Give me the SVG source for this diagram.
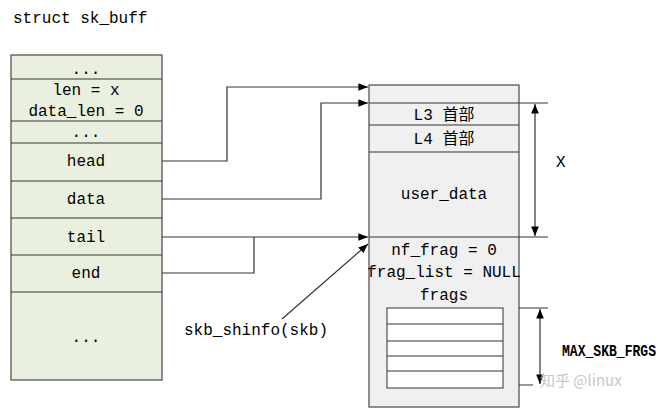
<svg xmlns="http://www.w3.org/2000/svg" width="667" height="408" viewBox="0 0 667 408">
<defs>
<style>
text{font-family:"Liberation Mono","Noto Sans CJK SC",monospace;font-size:16px;fill:#000}
.c{text-anchor:middle}
.box{stroke:#555;stroke-width:1.3}
.ln{stroke:#333;stroke-width:1.2;fill:none}
</style>
<marker id="a" viewBox="0 0 10 10" refX="10" refY="5" markerWidth="8" markerHeight="8" orient="auto-start-reverse"><path d="M0,1 L10,5 L0,9 z" fill="#000"/></marker>
</defs>
<rect width="667" height="408" fill="#fff"/>
<text x="13" y="23" font-size="17.5">struct sk_buff</text>
<g id="sk_buff">
<rect class="box" x="11" y="55" width="151" height="325" fill="#eaf0df"/>
<path class="ln" d="M11,79H162M11,121H162M11,143H162M11,181H162M11,218H162M11,255H162M11,292H162"/>
<text class="c" x="86" y="74">...</text>
<text class="c" x="86" y="95">len = x</text>
<text class="c" x="86" y="116">data_len = 0</text>
<text class="c" x="86" y="137">...</text>
<text class="c" x="86" y="166">head</text>
<text class="c" x="86" y="204">data</text>
<text class="c" x="86" y="242">tail</text>
<text class="c" x="86" y="278">end</text>
<text class="c" x="86" y="342">...</text>
</g>
<g id="buffer">
<rect class="box" x="369" y="85" width="150" height="322" fill="#f0f0f0"/>
<path class="ln" d="M369,103H519M369,125H519M369,152H519M369,237H519"/>
<text class="c" x="444" y="120">L3 首部</text>
<text class="c" x="444" y="144">L4 首部</text>
<text class="c" x="444" y="199">user_data</text>
<text class="c" x="444" y="255">nf_frag = 0</text>
<text class="c" x="444" y="277">frag_list = NULL</text>
<text class="c" x="444" y="300">frags</text>
<rect x="387" y="308" width="116" height="80" fill="#fff" stroke="#333"/>
<path class="ln" d="M387,324H503M387,341H503M387,356H503M387,371H503"/>
</g>
<g id="dims">
<path class="ln" d="M519,103H548M519,237H548M519,308H548M519,385H533"/>
<path class="ln" d="M535,104V236" marker-start="url(#a)" marker-end="url(#a)"/>
<path class="ln" d="M540,309V384" marker-start="url(#a)" marker-end="url(#a)"/>
<text x="556" y="167" font-size="14">X</text>
<text x="562" y="356" font-size="12" font-weight="bold" textLength="94" lengthAdjust="spacingAndGlyphs">MAX_SKB_FRGS</text>
</g>
<g id="connectors">
<path class="ln" d="M162,161H227V87H368" marker-end="url(#a)"/>
<path class="ln" d="M162,199H321V103H368" marker-end="url(#a)"/>
<path class="ln" d="M162,237H368" marker-end="url(#a)"/>
<path class="ln" d="M162,273H254V237"/>
<path class="ln" d="M282,319L368,244" marker-end="url(#a)"/>
<text x="184" y="335">skb_shinfo(skb)</text>
</g>
<text x="540" y="386" style="fill:#c8c8c8;font-family:'Noto Sans CJK SC',sans-serif;font-size:15px">知乎 @linux</text>
</svg>
